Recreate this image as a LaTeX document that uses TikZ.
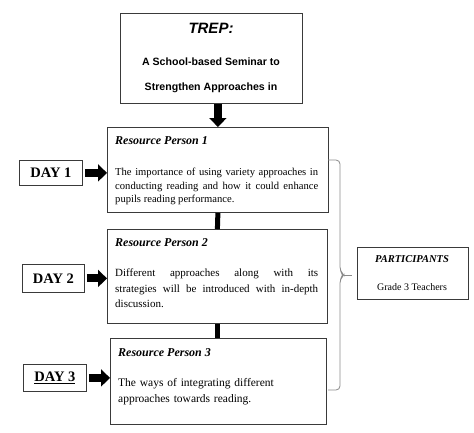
\documentclass[tikz,border=0pt]{standalone}
\usepackage{fontspec}
\setmainfont{Liberation Serif}
\newfontfamily\arialfont{Liberation Sans}
\usetikzlibrary{arrows.meta, positioning, calc}
\definecolor{boxline}{HTML}{3A3A3A}
\definecolor{bracegrey}{HTML}{8A8A8A}
\hyphenpenalty=10000
\exhyphenpenalty=10000

\tikzset{
  box/.style={draw=boxline, line width=0.8pt, inner sep=0pt, anchor=north west},
  daybox/.style={box, font=\bfseries\fontsize{14.5}{16}\selectfont},
  rptitle/.style={font=\bfseries\itshape\fontsize{12}{14}\selectfont, anchor=west, inner sep=0pt},
  rpbody/.style={text width=203pt, align=justify, anchor=north west, inner sep=0pt},
  toptext/.style={font=\arialfont\bfseries\fontsize{10.6}{12}\selectfont, inner sep=0pt},
  fatarrow/.style={line width=8pt, -{Triangle[length=9pt,width=17pt]}},
  joinbar/.style={line width=5pt},
  bracket/.style={draw=bracegrey, line width=0.8pt}
}

\begin{document}
\begin{tikzpicture}[x=1pt, y=-1pt]
  \useasboundingbox (0,0) rectangle (474,432);

  % title box
  \node[box, minimum width=182pt, minimum height=90pt] (top) at (120,13) {};
  \node[toptext, font=\arialfont\bfseries\itshape\fontsize{15}{17}\selectfont] (trep) at (211,28) {TREP:};
  \node[toptext] (topline1) at (211,62) {A School-based Seminar to};
  \node[toptext] (topline2) at (211,88) {Strengthen Approaches in};

  % resource persons
  \node[box, minimum width=221pt, minimum height=85pt] (rp1) at (107,127) {};
  \node[box, minimum width=220pt, minimum height=94pt] (rp2) at (107,229) {};
  \node[box, minimum width=216pt, minimum height=86pt] (rp3) at (110,338) {};

  \node[rptitle] (rp1title) at (115,141) {Resource Person 1};
  \node[rptitle] (rp2title) at (115,243) {Resource Person 2};
  \node[rptitle] (rp3title) at (118,353) {Resource Person 3};

  \node[rpbody, font=\fontsize{10.6}{13.5}\selectfont] (rp1text) at (115,168)
    {The importance of using variety approaches in\linebreak conducting reading and how it could enhance\linebreak pupils reading performance.};
  \node[rpbody, font=\fontsize{11}{15.5}\selectfont] (rp2text) at (115,269)
    {Different approaches along with its\linebreak strategies will be introduced with in-depth\linebreak discussion.};
  \node[rpbody, font=\fontsize{11.5}{16}\selectfont, align=left] (rp3text) at (118,378)
    {The ways of integrating different\\approaches towards reading.};

  % days
  \node[daybox, minimum width=63pt, minimum height=25pt] (day1) at (19,160) {DAY 1};
  \node[daybox, minimum width=62pt, minimum height=28pt] (day2) at (22,264) {DAY 2};
  \node[daybox, minimum width=63pt, minimum height=27pt] (day3) at (23,364) {\underline{DAY 3}};

  % participants
  \node[box, minimum width=111pt, minimum height=52pt] (part) at (357,247) {};
  \node[font=\bfseries\itshape\fontsize{10.5}{12}\selectfont, inner sep=0pt] (parttitle) at (412,259) {PARTICIPANTS};
  \node[font=\fontsize{10}{12}\selectfont, inner sep=0pt] (partwho) at (412,287) {Grade 3 Teachers};

  % connectors
  \draw[fatarrow] (top.south -| rp1.north) -- (rp1.north);
  \draw[joinbar] (rp1.south) -- (rp2.north);
  \draw[joinbar] (rp2.south) -- (rp3.north -| rp2.south);
  \draw[fatarrow, shorten <=2pt] (day1.east) -- (day1.east -| rp1.west);
  \draw[fatarrow, shorten <=2pt] (day2.east) -- (day2.east -| rp2.west);
  \draw[fatarrow, shorten <=2pt] (day3.east) -- (day3.east -| rp3.west);

  % bracket round the three sessions
  \draw[bracket, rounded corners=4pt] (328,160) -| (340,271) -- (344,275) -- (340,279) |- (328,390);
  \draw[bracket] (344,275) -- (352,275);
\end{tikzpicture}
\end{document}
